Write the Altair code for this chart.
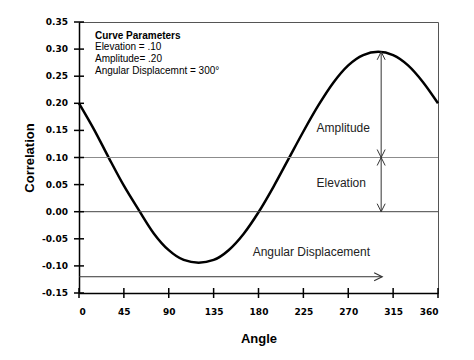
import altair as alt
import pandas as pd

# Curve
angles = [0, 15, 30, 45, 60, 75, 90, 105, 120, 135, 150, 165, 180,
          195, 210, 225, 240, 255, 270, 285, 300, 315, 330, 345, 360]
corr = [0.200, 0.152, 0.099, 0.048, 0.003, -0.040, -0.071, -0.089, -0.094,
        -0.089, -0.071, -0.041, -0.001, 0.046, 0.097, 0.148, 0.196, 0.238,
        0.270, 0.289, 0.295, 0.289, 0.270, 0.239, 0.200]

x_ticks = [0, 45, 90, 135, 180, 225, 270, 315, 360]
y_ticks = [-0.15, -0.10, -0.05, 0.00, 0.05, 0.10, 0.15, 0.20, 0.25, 0.30, 0.35]
y_labels = ["-0.15", "-0.10", "-0.05", "0.00", "0.05", "0.10", "0.15",
            "0.20", "0.25", "0.30", "0.35"]

elevation = 0.10
baseline = 0.00
peak_angle = 303
peak_value = 0.295
disp_y = -0.12
disp_end = 304

param_lines = ["Curve Parameters", "Elevation = .10", "Amplitude= .20",
               "Angular Displacemnt = 300\u00b0"]
param_x = [16, 16, 16, 16]
param_y = [0.325, 0.303, 0.281, 0.259]
param_bold = ["bold", "normal", "normal", "normal"]

label_text = ["Amplitude", "Elevation", "Angular Displacement"]
label_x = [265, 263, 233]
label_y = [0.154, 0.053, -0.074]

X = alt.Scale(domain=[0, 360], nice=False, zero=False)
Y = alt.Scale(domain=[-0.15, 0.35], nice=False, zero=False)

XA = alt.Axis(values=x_ticks, ticks=False, grid=False,
              labelPadding=14, titlePadding=16, labelOverlap=False,
              labelFont="DejaVu Sans", labelFontSize=9,
              labelFontWeight="bold", labelColor="black",
              titleFont="Liberation Sans", titleFontSize=13,
              titleFontWeight="bold", titleColor="black",
              domainColor="black", domainWidth=1.5)
YA = alt.Axis(values=y_ticks, ticks=False, grid=False, labels=False,
              titlePadding=43,
              titleFont="Liberation Sans", titleFontSize=13,
              titleFontWeight="bold", titleColor="black",
              domainColor="black", domainWidth=1.5)


def xq(field):
    return alt.X(field, type="quantitative", scale=X, axis=XA, title="Angle")


def yq(field):
    return alt.Y(field, type="quantitative", scale=Y, axis=YA, title="Correlation")


curve_df = pd.DataFrame({"Angle": angles, "Correlation": corr})
curve = alt.Chart(curve_df).mark_line(color="black", strokeWidth=2.5,
                                      interpolate="monotone").encode(
    x=xq("Angle"), y=yq("Correlation"))

hlines_df = pd.DataFrame({"y": [elevation, baseline], "c": ["#8c8c8c", "#444444"]})
hlines = alt.Chart(hlines_df).mark_rule(strokeWidth=1).encode(
    y=yq("y"), color=alt.Color("c:N", scale=None))

# vertical arrow segment
vseg_df = pd.DataFrame({"x": [peak_angle], "y1": [peak_value], "y2": [baseline]})
vseg = alt.Chart(vseg_df).mark_rule(color="#333333", strokeWidth=1).encode(
    x=xq("x"), y=yq("y1"), y2="y2:Q")

hseg_df = pd.DataFrame({"x1": [0], "x2": [disp_end], "y": [disp_y]})
hseg = alt.Chart(hseg_df).mark_rule(color="#333333", strokeWidth=1).encode(
    x=xq("x1"), x2="x2:Q", y=yq("y"))

up_df = pd.DataFrame({"x": [peak_angle, peak_angle], "y": [peak_value, elevation]})
down_df = pd.DataFrame({"x": [peak_angle, peak_angle], "y": [elevation, baseline]})
right_df = pd.DataFrame({"x": [disp_end], "y": [disp_y]})

up = alt.Chart(up_df).mark_point(shape="M-1,2L0,0L1,2", size=64, filled=False,
                                 color="#333333", strokeWidth=1, opacity=1).encode(
    x=xq("x"), y=yq("y"))
down = alt.Chart(down_df).mark_point(shape="M-1,-2L0,0L1,-2", size=64, filled=False,
                                     color="#333333", strokeWidth=1, opacity=1).encode(
    x=xq("x"), y=yq("y"))
right = alt.Chart(right_df).mark_point(shape="M-2,-1L0,0L-2,1", size=64, filled=False,
                                       color="#333333", strokeWidth=1.2, opacity=1).encode(
    x=xq("x"), y=yq("y"))

# crossing tick marks
xt_df = pd.DataFrame({"v": x_ticks})
yt_df = pd.DataFrame({"v": y_ticks, "lab": y_labels})
xticks = alt.Chart(xt_df).mark_tick(orient="vertical", size=10, thickness=1.5,
                                    color="black", opacity=1).encode(
    x=xq("v"), y=alt.datum(-0.15))
yticks = alt.Chart(yt_df).mark_tick(orient="horizontal", size=10, thickness=1.5,
                                    color="black", opacity=1).encode(
    y=yq("v"), x=alt.datum(0))
ylabels = alt.Chart(yt_df).mark_text(
    align="right", baseline="middle", dx=-11, font="DejaVu Sans", fontSize=9,
    fontWeight="bold", color="black").encode(
    y=yq("v"), x=alt.datum(0), text="lab:N")

params_df = pd.DataFrame({"t": param_lines, "x": param_x, "y": param_y, "w": param_bold})
params_bold = alt.Chart(params_df[params_df.w == "bold"]).mark_text(
    align="left", baseline="middle", font="Liberation Sans", fontSize=10,
    fontWeight="bold", color="black").encode(
    x=xq("x"), y=yq("y"), text="t:N")
params_norm = alt.Chart(params_df[params_df.w == "normal"]).mark_text(
    align="left", baseline="middle", font="Liberation Sans", fontSize=10,
    color="black").encode(
    x=xq("x"), y=yq("y"), text="t:N")

labels_df = pd.DataFrame({"t": label_text, "x": label_x, "y": label_y})
labels = alt.Chart(labels_df).mark_text(
    align="center", baseline="middle", font="Liberation Sans", fontSize=12,
    color="#222222").encode(
    x=xq("x"), y=yq("y"), text="t:N")

chart = alt.layer(
    curve, hlines, vseg, hseg, up, down, right, xticks, yticks, ylabels,
    params_bold, params_norm, labels
).properties(
    width=359, height=271, background="white",
    padding={"left": 15, "top": 10, "right": 5, "bottom": 5},
).configure_view(
    stroke="#555555", strokeWidth=1
)

chart.save("out.html", embed_options={"renderer": "svg", "actions": False})
